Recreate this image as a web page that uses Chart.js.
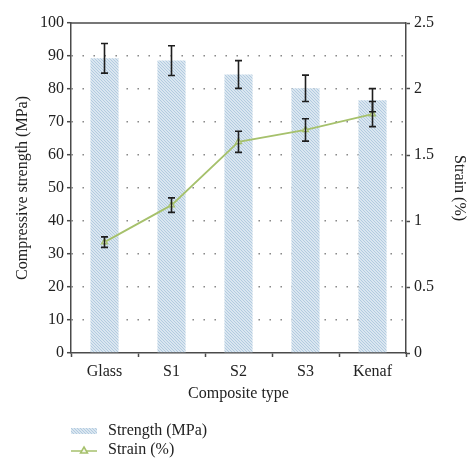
<!DOCTYPE html>
<html>
<head>
<meta charset="utf-8">
<script src="https://cdn.jsdelivr.net/npm/chart.js@4/dist/chart.umd.min.js"></script>
<style>
html,body{margin:0;padding:0;background:#fff;}
#wrap{width:474px;height:474px;}
</style>
</head>
<body>
<div id="wrap"><canvas id="c" width="474" height="474"></canvas></div>
<script>
const categories = ["Glass", "S1", "S2", "S3", "Kenaf"];
const strength = [89.3, 88.6, 84.4, 80.2, 76.6];
const strengthErr = [4.5, 4.5, 4.2, 4.0, 3.5];
const strain = [0.84, 1.12, 1.60, 1.69, 1.81];
const strainErr = [0.04, 0.055, 0.08, 0.085, 0.095];
const leftTicks = [0, 10, 20, 30, 40, 50, 60, 70, 80, 90, 100];
const rightTicks = [0, 0.5, 1, 1.5, 2, 2.5];
const rightTickLabels = ["0", "0.5", "1", "1.5", "2", "2.5"];
const seriesLabels = ["Strength (MPa)", "Strain (%)"];
const xTitle = "Composite type";
const yLeftTitle = "Compressive strength (MPa)";
const yRightTitle = "Strain (%)";

const FONT = "'Liberation Serif', 'DejaVu Serif', serif";
const AXIS = "#4a4a4a";
const LINEC = "#a6c16c";

function makePattern() {
  const p = document.createElement('canvas');
  p.width = 3; p.height = 3;
  const g = p.getContext('2d');
  g.fillStyle = '#dae6f0';
  g.fillRect(0, 0, 3, 3);
  g.strokeStyle = '#b2cbe0';
  g.lineWidth = 1;
  g.beginPath();
  g.moveTo(-1, -1); g.lineTo(4, 4);
  g.moveTo(-1, 2); g.lineTo(1, 4);
  g.moveTo(2, -1); g.lineTo(4, 1);
  g.stroke();
  return document.getElementById('c').getContext('2d').createPattern(p, 'repeat');
}
const hatch = makePattern();

const errorBars = {
  id: 'errorBars',
  afterDatasetsDraw(chart) {
    const ctx = chart.ctx;
    const x = chart.scales.x;
    const draw = (vals, errs, scale) => {
      ctx.save();
      ctx.strokeStyle = '#1e1e1e';
      ctx.lineWidth = 1.6;
      vals.forEach((v, i) => {
        const px = x.getPixelForValue(i);
        const yt = scale.getPixelForValue(v + errs[i]);
        const yb = scale.getPixelForValue(v - errs[i]);
        ctx.beginPath();
        ctx.moveTo(px, yt); ctx.lineTo(px, yb);
        ctx.moveTo(px - 3.5, yt); ctx.lineTo(px + 3.5, yt);
        ctx.moveTo(px - 3.5, yb); ctx.lineTo(px + 3.5, yb);
        ctx.stroke();
      });
      ctx.restore();
    };
    draw(strength, strengthErr, chart.scales.y);
    draw(strain, strainErr, chart.scales.y2);
  }
};

const frame = {
  id: 'frame',
  afterDraw(chart) {
    const ctx = chart.ctx;
    const a = chart.chartArea;
    ctx.save();
    ctx.strokeStyle = AXIS;
    ctx.lineWidth = 1.5;
    ctx.beginPath();
    ctx.moveTo(a.left, a.top); ctx.lineTo(a.right, a.top);
    ctx.stroke();
    // legend
    const lx = 71, tx = 108;
    const y1 = 431, y2 = 450;
    ctx.fillStyle = hatch;
    ctx.fillRect(lx, y1 - 3, 26, 6);
    ctx.strokeStyle = LINEC;
    ctx.lineWidth = 1.5;
    ctx.beginPath();
    ctx.moveTo(lx, y2 + 1); ctx.lineTo(lx + 26, y2 + 1);
    ctx.stroke();
    ctx.fillStyle = '#f4f7ea';
    ctx.beginPath();
    ctx.moveTo(lx + 13, y2 - 3); ctx.lineTo(lx + 16.5, y2 + 3); ctx.lineTo(lx + 9.5, y2 + 3); ctx.closePath();
    ctx.fill(); ctx.stroke();
    ctx.fillStyle = '#222';
    ctx.font = "16px " + FONT;
    ctx.textBaseline = 'middle';
    ctx.textAlign = 'left';
    ctx.fillText(seriesLabels[0], tx, y1);
    ctx.fillText(seriesLabels[1], tx, y2);
    ctx.restore();
  }
};

new Chart(document.getElementById('c'), {
  data: {
    labels: categories,
    datasets: [
      {
        type: 'bar',
        label: seriesLabels[0],
        data: strength,
        yAxisID: 'y',
        backgroundColor: hatch,
        borderWidth: 0,
        categoryPercentage: 0.6,
        barPercentage: 0.7,
        order: 2
      },
      {
        type: 'line',
        label: seriesLabels[1],
        data: strain,
        yAxisID: 'y2',
        borderColor: LINEC,
        borderWidth: 1.8,
        pointStyle: 'triangle',
        pointRadius: 3.5,
        pointBackgroundColor: '#eef3dd',
        pointBorderColor: LINEC,
        pointBorderWidth: 1.2,
        tension: 0,
        order: 1
      }
    ]
  },
  options: {
    responsive: false,
    animation: false,
    devicePixelRatio: 1,
    layout: { padding: { top: 23, bottom: 67, left: 0, right: 0 } },
    plugins: { legend: { display: false }, tooltip: { enabled: false } },
    scales: {
      x: {
        type: 'category',
        offset: true,
        grid: { display: true, drawOnChartArea: false, drawTicks: true, tickLength: 4, tickColor: AXIS, tickWidth: 1.5, offset: true },
        border: { display: true, color: AXIS, width: 1.5 },
        ticks: { color: '#222', font: { family: FONT, size: 16 }, padding: 5, maxRotation: 0 },
        title: { display: true, text: xTitle, color: '#222', font: { family: FONT, size: 16 }, padding: { top: 4, bottom: 4 } },
        afterFit(s) { s.height = 54; }
      },
      y: {
        type: 'linear',
        position: 'left',
        min: 0, max: 100,
        afterBuildTicks(s) { s.ticks = leftTicks.map(v => ({ value: v })); },
        grid: {
          color: (c) => (c.tick.value === 0 || c.tick.value === 100) ? 'rgba(0,0,0,0)' : '#7d7d7d',
          lineWidth: 1.4,
          drawTicks: true, tickLength: 4, tickColor: AXIS, tickWidth: 1.5
        },
        border: { display: true, color: AXIS, width: 1.5, dash: [1.4, 9.6] },
        ticks: { color: '#222', font: { family: FONT, size: 16 }, padding: 3 },
        title: { display: true, text: yLeftTitle, color: '#222', font: { family: FONT, size: 16 }, padding: { top: 13, bottom: 4 } },
        afterFit(s) { s.width = 71; }
      },
      y2: {
        type: 'linear',
        position: 'right',
        min: 0, max: 2.5,
        afterBuildTicks(s) { s.ticks = rightTicks.map(v => ({ value: v })); },
        grid: { drawOnChartArea: false, drawTicks: true, tickLength: 4, tickColor: AXIS, tickWidth: 1.5 },
        border: { display: true, color: AXIS, width: 1.5 },
        ticks: {
          color: '#222', font: { family: FONT, size: 16 }, padding: 4,
          callback: (v) => { const i = rightTicks.indexOf(v); return i >= 0 ? rightTickLabels[i] : ''; }
        },
        title: { display: true, text: yRightTitle, color: '#222', font: { family: FONT, size: 16 }, padding: { top: 5, bottom: 4 } },
        afterFit(s) { s.width = 68; }
      }
    }
  },
  plugins: [errorBars, frame]
});
</script>
</body>
</html>
